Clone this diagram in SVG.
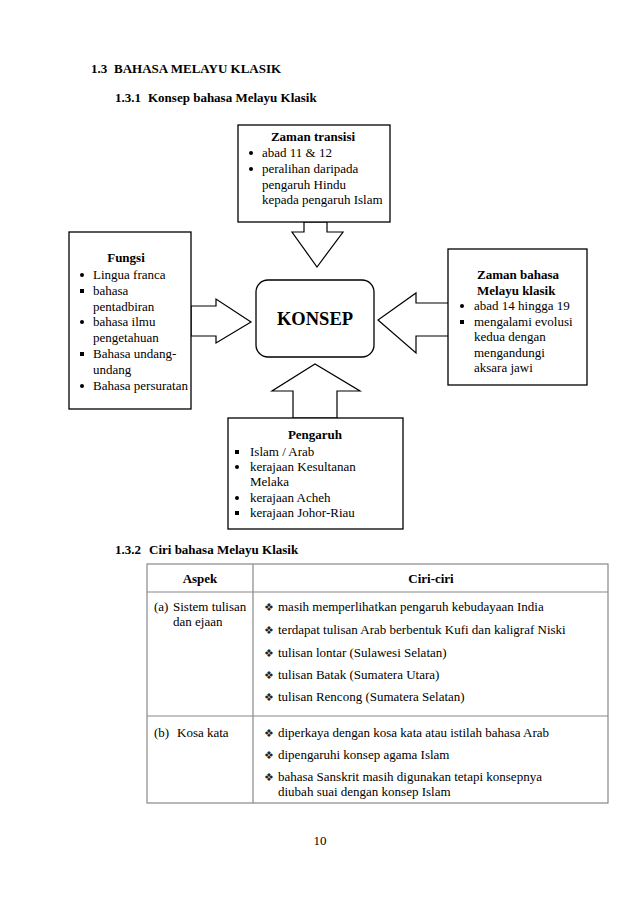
<svg xmlns="http://www.w3.org/2000/svg" width="638" height="903" viewBox="0 0 638 903">
<style>
text{font-family:"Liberation Serif","Times New Roman",serif;font-size:13px;fill:#000}
.b{font-weight:bold}
.c{text-anchor:middle}
.box{fill:#fff;stroke:#000;stroke-width:1.3}
.arr{fill:#fff;stroke:#000;stroke-width:1.2;stroke-linejoin:miter}
.tb{fill:none;stroke:#888;stroke-width:1.2}
.dm{font-family:"DejaVu Sans",sans-serif;font-size:11px;fill:#222}
.bul{fill:#000}
</style>
<rect width="638" height="903" fill="#fff"/>
<g id="headings">
<text class="b" x="91" y="73">1.3</text>
<text class="b" x="114" y="73">BAHASA MELAYU KLASIK</text>
<text class="b" x="115" y="102">1.3.1</text>
<text class="b" x="148" y="102">Konsep bahasa Melayu Klasik</text>
<text class="b" x="115" y="554">1.3.2</text>
<text class="b" x="149" y="554">Ciri bahasa Melayu Klasik</text>
</g>
<g id="connectors">
<polygon class="arr" points="304,222 304,232 292,232 317,267 343,232 327,232 327,222"/>
<polygon class="arr" points="191,306 216,306 216,299 251,322 216,343 216,336 191,336"/>
<polygon class="arr" points="449,303 416,303 416,293 378,320 416,353 416,336 449,336"/>
<polygon class="arr" points="293,418 293,391 272,391 315,364 360,391 337,391 337,418"/>
</g>
<g id="node-zaman-transisi">
<rect class="box" x="238" y="125" width="152" height="97"/>
<text class="b c" x="313" y="141">Zaman transisi</text>
<circle class="bul" cx="251" cy="153" r="2"/>
<circle class="bul" cx="251" cy="169" r="2"/>
<text x="262" y="157">abad 11 &amp; 12</text>
<text x="262" y="173">peralihan daripada</text>
<text x="262" y="189">pengaruh Hindu</text>
<text x="262" y="204">kepada pengaruh Islam</text>
</g>
<g id="node-fungsi">
<rect class="box" x="69" y="232" width="122" height="177"/>
<text class="b c" x="126" y="262">Fungsi</text>
<circle class="bul" cx="82" cy="275" r="2"/>
<rect class="bul" x="80" y="289" width="4" height="4"/>
<circle class="bul" cx="82" cy="322" r="2"/>
<rect class="bul" x="80" y="352" width="4" height="4"/>
<circle class="bul" cx="82" cy="386" r="2"/>
<text x="93" y="279">Lingua franca</text>
<text x="93" y="295">bahasa</text>
<text x="93" y="311">pentadbiran</text>
<text x="93" y="326">bahasa ilmu</text>
<text x="93" y="342">pengetahuan</text>
<text x="93" y="358">Bahasa undang-</text>
<text x="93" y="374">undang</text>
<text x="93" y="390">Bahasa persuratan</text>
</g>
<g id="node-konsep">
<rect class="box" x="256" y="280" width="118" height="77" rx="12"/>
<text class="b c" x="315" y="325" style="font-size:18.5px">KONSEP</text>
</g>
<g id="node-zaman-bahasa">
<rect class="box" x="448" y="249" width="139" height="136"/>
<text class="b" x="477" y="279">Zaman bahasa</text>
<text class="b" x="477" y="295">Melayu klasik</text>
<circle class="bul" cx="462" cy="306" r="2"/>
<rect class="bul" x="460" y="320" width="4" height="4"/>
<text x="474" y="310">abad 14 hingga 19</text>
<text x="474" y="326">mengalami evolusi</text>
<text x="474" y="341">kedua dengan</text>
<text x="474" y="357">mengandungi</text>
<text x="474" y="372">aksara jawi</text>
</g>
<g id="node-pengaruh">
<rect class="box" x="228" y="418" width="175" height="111"/>
<text class="b c" x="315" y="439">Pengaruh</text>
<rect class="bul" x="235" y="450" width="4" height="4"/>
<circle class="bul" cx="237" cy="467" r="2"/>
<circle class="bul" cx="237" cy="498" r="2"/>
<rect class="bul" x="235" y="511" width="4" height="4"/>
<text x="250" y="456">Islam / Arab</text>
<text x="250" y="471">kerajaan Kesultanan</text>
<text x="250" y="486">Melaka</text>
<text x="250" y="502">kerajaan Acheh</text>
<text x="250" y="517">kerajaan Johor-Riau</text>
</g>
<g id="table">
<rect class="tb" x="147" y="564" width="461" height="239"/>
<line class="tb" x1="147" y1="592" x2="608" y2="592"/>
<line class="tb" x1="147" y1="716" x2="608" y2="716"/>
<line class="tb" x1="253" y1="564" x2="253" y2="803"/>
<text class="b c" x="200" y="583">Aspek</text>
<text class="b c" x="431" y="583">Ciri-ciri</text>
<text x="154" y="611">(a)</text>
<text x="173" y="611">Sistem tulisan</text>
<text x="173" y="626">dan ejaan</text>
<text class="dm" x="264" y="611">❖</text>
<text x="278" y="611">masih memperlihatkan pengaruh kebudayaan India</text>
<text class="dm" x="264" y="634">❖</text>
<text x="278" y="634">terdapat tulisan Arab berbentuk Kufi dan kaligraf Niski</text>
<text class="dm" x="264" y="657">❖</text>
<text x="278" y="657">tulisan lontar (Sulawesi Selatan)</text>
<text class="dm" x="264" y="679">❖</text>
<text x="278" y="679">tulisan Batak (Sumatera Utara)</text>
<text class="dm" x="264" y="701">❖</text>
<text x="278" y="701">tulisan Rencong (Sumatera Selatan)</text>
<text x="154" y="737">(b)</text>
<text x="177" y="737">Kosa kata</text>
<text class="dm" x="264" y="737">❖</text>
<text x="278" y="737">diperkaya dengan kosa kata atau istilah bahasa Arab</text>
<text class="dm" x="264" y="759">❖</text>
<text x="278" y="759">dipengaruhi konsep agama Islam</text>
<text class="dm" x="264" y="781">❖</text>
<text x="278" y="781">bahasa Sanskrit masih digunakan tetapi konsepnya</text>
<text x="278" y="796">diubah suai dengan konsep Islam</text>
</g>
<text class="c" x="320" y="845">10</text>
</svg>
